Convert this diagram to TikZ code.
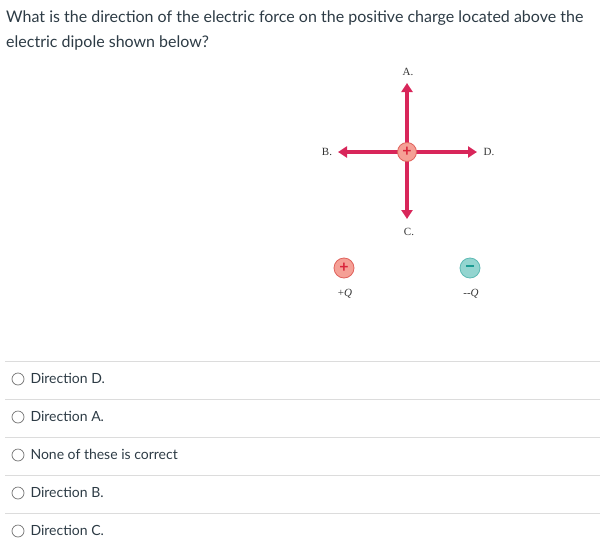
\documentclass[tikz,border=0pt]{standalone}
\usepackage{fontspec}
\setmainfont{Lato}
\newfontfamily\labelfont{Liberation Serif}
\usetikzlibrary{arrows.meta}
\definecolor{forcered}{HTML}{D8265A}
\definecolor{posfill}{HTML}{F5A096}
\definecolor{posline}{HTML}{E0625C}
\definecolor{posmark}{HTML}{D9263C}
\definecolor{negfill}{HTML}{93D5D0}
\definecolor{negline}{HTML}{5DBAB4}
\definecolor{negmark}{HTML}{1B9B93}
\definecolor{sepgray}{HTML}{DCDCDC}
\definecolor{textgray}{HTML}{2D3B45}
\tikzset{
  poscharge/.style={circle, draw=posline, fill=posfill, line width=0.8pt, minimum size=20pt, inner sep=0pt, text=posmark, font=\bfseries\fontsize{16}{16}\selectfont},
  negcharge/.style={circle, draw=negline, fill=negfill, line width=0.8pt, minimum size=20pt, inner sep=0pt, text=negmark, font=\bfseries\fontsize{16}{16}\selectfont},
  force/.style={draw=forcered, line width=3.2pt, -{Triangle[length=9pt,width=11pt]}},
  dirlabel/.style={font=\labelfont\fontsize{11}{11}\selectfont, text=black!80},
  choice/.style={anchor=west, font=\fontsize{14}{14}\selectfont, text=textgray},
  radio/.style={circle, draw=black!55, line width=0.7pt, minimum size=12pt, inner sep=0pt}
}
\begin{document}
\begin{tikzpicture}[x=1pt, y=-1pt]
    \useasboundingbox (0,0) rectangle (600,552);

    % question
    \node[anchor=base west, font=\fontsize{16}{16}\selectfont, text=textgray, inner sep=0pt] (question1) at (6,22) {What is the direction of the electric force on the positive charge located above the};
    \node[anchor=base west, font=\fontsize{16}{16}\selectfont, text=textgray, inner sep=0pt] (question2) at (6,47) {electric dipole shown below?};

    % test charge and force directions
    \coordinate (tip_a) at (407,83);
    \coordinate (tip_b) at (338,152);
    \coordinate (tip_c) at (407,219);
    \coordinate (tip_d) at (477,152);

    \draw[force] (407,152) -- (tip_a);
    \draw[force] (407,152) -- (tip_b);
    \draw[force] (407,152) -- (tip_c);
    \draw[force] (407,152) -- (tip_d);

    \node[poscharge, minimum size=19pt] (test) at (407,152) {+};

    \node[dirlabel] (label_a) at (408,72) {A.};
    \node[dirlabel] (label_b) at (327,152) {B.};
    \node[dirlabel] (label_c) at (409,232) {C.};
    \node[dirlabel] (label_d) at (489,152) {D.};

    % dipole
    \node[poscharge] (plus_q) at (344,268) {+};
    \node[negcharge] (minus_q) at (470,268) {\rule[0.45ex]{8pt}{2.2pt}};
    \node[dirlabel] at (345,294) {+\textit{Q}};
    \node[dirlabel] at (471,294) {--\textit{Q}};

    % answer choices
    \foreach \y/\txt in {379/Direction D., 417/Direction A., 455/None of these is correct, 493/Direction B., 531/Direction C.} {
        \draw[sepgray, line width=0.8pt] (5,\y-18) -- (600,\y-18);
        \node[radio] at (18,\y) {};
        \node[choice] at (27,\y-1) {\txt};
    }
\end{tikzpicture}
\end{document}
